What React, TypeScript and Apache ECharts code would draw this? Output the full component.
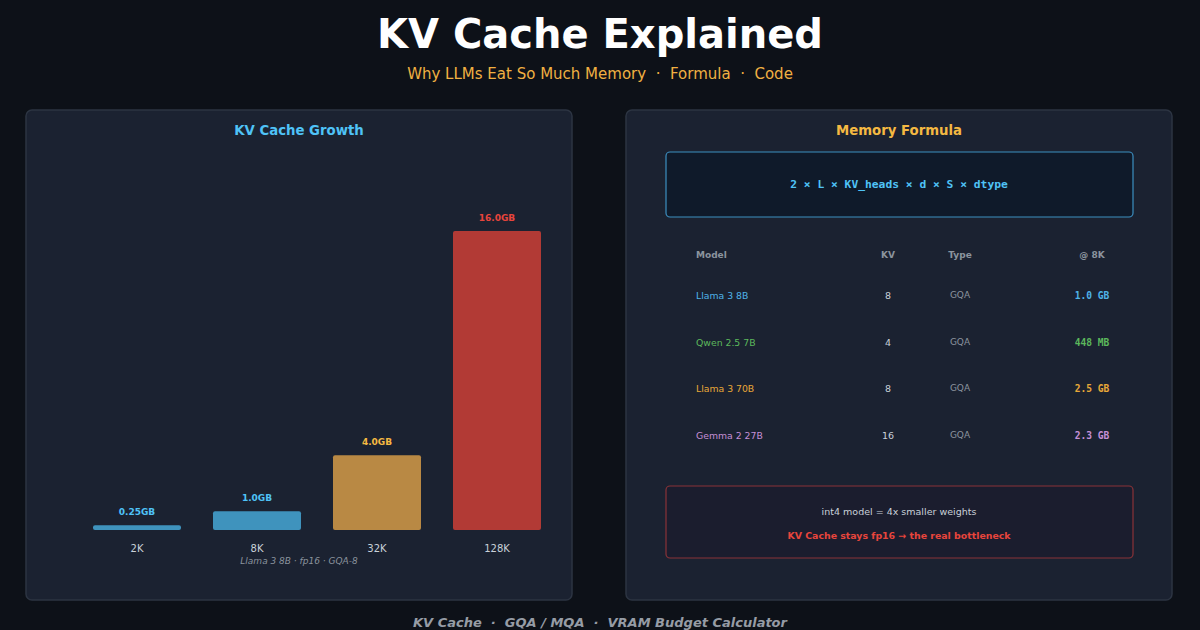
import React, { useEffect, useRef } from "react";
import * as echarts from "echarts";

const contextLengths = ["2K", "8K", "32K", "128K"];
const cacheGB = [0.25, 1.0, 4.0, 16.0];
const cacheLabels = ["0.25GB", "1.0GB", "4.0GB", "16.0GB"];
const barColors = ["#3f93bd", "#3f93bd", "#b98944", "#b23a35"];
const labelColors = ["#4fc3f7", "#4fc3f7", "#f5b942", "#e8453c"];

const tableHeaders = ["Model", "KV", "Type", "@ 8K"];
const models = ["Llama 3 8B", "Qwen 2.5 7B", "Llama 3 70B", "Gemma 2 27B"];
const kvHeads = ["8", "4", "8", "16"];
const attnTypes = ["GQA", "GQA", "GQA", "GQA"];
const at8k = ["1.0 GB", "448 MB", "2.5 GB", "2.3 GB"];
const modelColors = ["#4fb3e8", "#5cb85c", "#e8a838", "#c58fd6"];

const FONT = "DejaVu Sans";
const MONO = "DejaVu Sans Mono";

export default function App() {
  const ref = useRef<HTMLDivElement>(null);
  useEffect(() => {
    document.body.style.margin = "0";
    const chart = echarts.init(ref.current!, null, { renderer: "svg" });

    const colX = [696, 888, 960, 1092];
    const colAlign = ["left", "center", "center", "center"];
    const rowY = [295, 342, 388, 435];
    const graphics: any[] = [
      { type: "rect", z: -10, shape: { x: 26, y: 110, width: 546, height: 490, r: 6 }, style: { fill: "#1b2231", stroke: "#2c3442", lineWidth: 1.5 } },
      { type: "rect", z: -10, shape: { x: 626, y: 110, width: 546, height: 490, r: 6 }, style: { fill: "#1b2231", stroke: "#2c3442", lineWidth: 1.5 } },
      { type: "text", x: 600, y: 34, style: { text: "KV Cache Explained", fill: "#ffffff", font: `bold 40px ${FONT}`, align: "center", verticalAlign: "middle" } },
      { type: "text", x: 600, y: 74, style: { text: "Why LLMs Eat So Much Memory  ·  Formula  ·  Code", fill: "#f0b042", font: `15px ${FONT}`, align: "center", verticalAlign: "middle" } },
      { type: "text", x: 299, y: 130, style: { text: "KV Cache Growth", fill: "#4fc3f7", font: `bold 13.3px ${FONT}`, align: "center", verticalAlign: "middle" } },
      { type: "text", x: 899, y: 130, style: { text: "Memory Formula", fill: "#f5b942", font: `bold 13.3px ${FONT}`, align: "center", verticalAlign: "middle" } },
      { type: "text", x: 299, y: 561, style: { text: "Llama 3 8B · fp16 · GQA-8", fill: "#8b949e", font: `italic 9px ${FONT}`, align: "center", verticalAlign: "middle" } },
      { type: "rect", shape: { x: 666, y: 152, width: 467, height: 65, r: 4 }, style: { fill: "#0f1a2a", stroke: "#3d8fc0", lineWidth: 1.2 } },
      { type: "text", x: 899, y: 184, style: { text: "2 × L × KV_heads × d × S × dtype", fill: "#4fc3f7", font: `bold 11.3px ${MONO}`, align: "center", verticalAlign: "middle" } },
      { type: "rect", shape: { x: 666, y: 486, width: 467, height: 72, r: 4 }, style: { fill: "#1b1d2e", stroke: "#8a3338", lineWidth: 1.2 } },
      { type: "text", x: 899, y: 511, style: { text: "int4 model = 4x smaller weights", fill: "#c9d1d9", font: `9.5px ${FONT}`, align: "center", verticalAlign: "middle" } },
      { type: "text", x: 899, y: 535, style: { text: "KV Cache stays fp16 → the real bottleneck", fill: "#e8453c", font: `bold 9.4px ${FONT}`, align: "center", verticalAlign: "middle" } },
      { type: "text", x: 600, y: 622, style: { text: "KV Cache  ·  GQA / MQA  ·  VRAM Budget Calculator", fill: "#969ca5", font: `italic bold 13px ${FONT}`, align: "center", verticalAlign: "middle" } },
    ];
    tableHeaders.forEach((h, i) => {
      graphics.push({ type: "text", x: colX[i], y: 255, style: { text: h, fill: "#8b949e", font: `bold 9px ${FONT}`, align: colAlign[i], verticalAlign: "middle" } });
    });
    models.forEach((m, r) => {
      const y = rowY[r];
      graphics.push({ type: "text", x: colX[0], y, style: { text: m, fill: modelColors[r], font: `9.3px ${FONT}`, align: "left", verticalAlign: "middle" } });
      graphics.push({ type: "text", x: colX[1], y, style: { text: kvHeads[r], fill: "#c9d1d9", font: `9.5px ${FONT}`, align: "center", verticalAlign: "middle" } });
      graphics.push({ type: "text", x: colX[2], y, style: { text: attnTypes[r], fill: "#8b949e", font: `9px ${FONT}`, align: "center", verticalAlign: "middle" } });
      graphics.push({ type: "text", x: colX[3], y, style: { text: at8k[r], fill: modelColors[r], font: `bold 9.6px ${MONO}`, align: "center", verticalAlign: "middle" } });
    });

    chart.setOption({
      animation: false,
      backgroundColor: "#0d1118",
      grid: { left: 77, width: 480, top: 231, bottom: 100 },
      xAxis: {
        type: "category",
        data: contextLengths,
        axisLine: { show: false },
        axisTick: { show: false },
        axisLabel: { color: "#c9d1d9", fontSize: 10, fontFamily: FONT, margin: 13 },
      },
      yAxis: { type: "value", min: 0, max: 16, show: false, splitLine: { show: false } },
      series: [
        {
          type: "bar",
          barWidth: 88,
          data: cacheGB.map((v, i) => ({
            value: v,
            itemStyle: { color: barColors[i], borderRadius: 2 },
            label: {
              show: true,
              position: "top",
              distance: 9,
              formatter: cacheLabels[i],
              color: labelColors[i],
              fontSize: 9,
              fontWeight: "bold",
              fontFamily: FONT,
            },
          })),
        },
      ],
      graphic: graphics,
    });
    return () => chart.dispose();
  }, []);
  return <div ref={ref} style={{ position: "fixed", left: 0, top: 0, width: 1200, height: 630 }} />;
}
